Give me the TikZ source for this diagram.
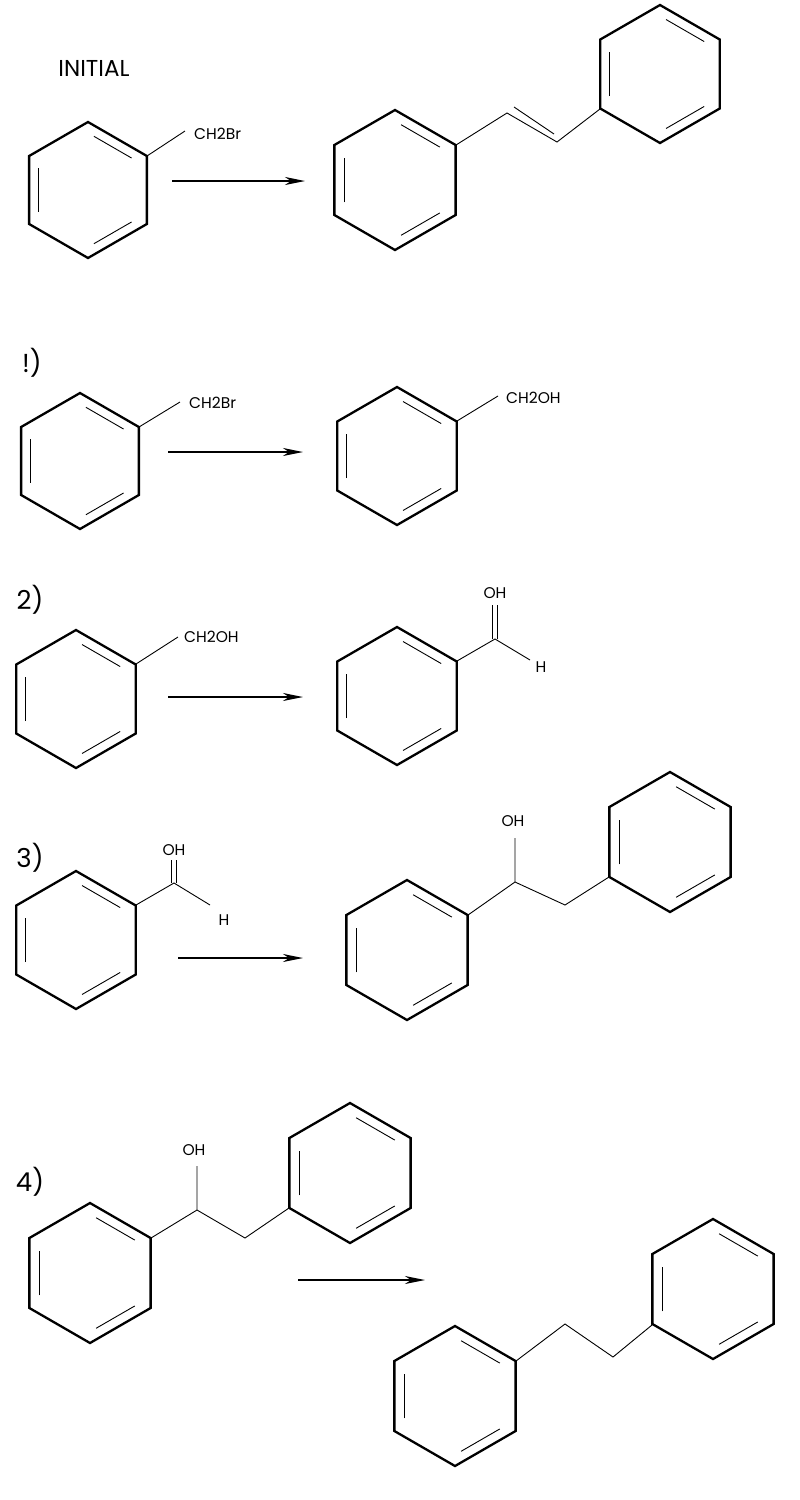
\documentclass[tikz,border=0pt]{standalone}
\usepackage{fontspec}
\setmainfont{Poppins}
\usetikzlibrary{calc,arrows.meta}
\tikzset{ring/.style={line width=2.3pt,line join=miter},
 thin/.style={line width=0.9pt},
 lab/.style={font=\fontsize{15.5}{15.5}\selectfont,inner sep=0pt},
 big/.style={font=\fontsize{26}{26}\selectfont,inner sep=0pt},
 rxn/.style={line width=1.5pt,-{Stealth[length=20pt,width=8pt,inset=6pt]}}}
\newcommand\benz[3]{%
\begin{scope}[shift={(#1pt,-#2pt)}]
\draw[ring] (90:#3pt)--(30:#3pt)--(-30:#3pt)--(-90:#3pt)--(-150:#3pt)--(150:#3pt)--cycle;
\foreach \a/\b in {90/30,-30/-90,-150/150}{
\draw[thin] ($(\a:0.84*#3pt)!0.12!(\b:0.84*#3pt)$)--($(\a:0.84*#3pt)!0.88!(\b:0.84*#3pt)$);}
\end{scope}}
\begin{document}
\begin{tikzpicture}[x=1pt,y=1pt]
\useasboundingbox (0,0) rectangle (800,-1500);
\fill[white] (0,0) rectangle (800,-1500);
% INITIAL
\node[big,font=\fontsize{23}{23}\selectfont] (t0) at (94,-68) {INITIAL};
\benz{88}{190}{68}
\coordinate (a1) at (147,-156); \coordinate (a2) at (185,-131);
\draw[thin] (a1)--(a2);
\node[lab,anchor=west] (l1) at (194,-134) {CH2Br};
\coordinate (r0a) at (172,-181); \coordinate (r0b) at (305,-181);
\draw[rxn] (r0a)--(r0b);
\benz{395}{180}{70}
\benz{660}{74}{69}
\coordinate (s1) at (456,-145); \coordinate (s2) at (507,-113);
\coordinate (s3) at (557,-142); \coordinate (s4) at (600,-109);
\draw[thin] (s1)--(s2)--(s3)--(s4);
\draw[thin] ($(s2)+(7,6)$)--($(s3)+(-3,8)$);
% 1
\node[big] (t1) at (32,-363) {!)};
\benz{80}{461}{68}
\coordinate (b1) at (139,-427); \coordinate (b2) at (180,-402);
\draw[thin] (b1)--(b2);
\node[lab,anchor=west] (l2) at (189,-403) {CH2Br};
\coordinate (r1a) at (168,-452); \coordinate (r1b) at (303,-452);
\draw[rxn] (r1a)--(r1b);
\benz{397}{456}{69}
\coordinate (c1) at (457,-421); \coordinate (c2) at (498,-396);
\draw[thin] (c1)--(c2);
\node[lab,anchor=west] (l3) at (506,-398) {CH2OH};
% 2
\node[big] (t2) at (30,-600) {2)};
\benz{76}{699}{69}
\coordinate (d1) at (136,-664); \coordinate (d2) at (178,-637);
\draw[thin] (d1)--(d2);
\node[lab,anchor=west] (l4) at (184,-637) {CH2OH};
\coordinate (r2a) at (168,-697); \coordinate (r2b) at (303,-697);
\draw[rxn] (r2a)--(r2b);
\benz{397}{696}{69}
\coordinate (e1) at (457,-661); \coordinate (e2) at (495,-639);
\coordinate (e3) at (530,-660);
\draw[thin] (e1)--(e2)--(e3);
\draw[thin] ($(e2)+(-2.5,0)$)--++(0,34) ($(e2)+(2.5,0)$)--++(0,34);
\node[lab] (l5) at (495,-593) {OH};
\node[lab] (l6) at (541,-667) {H};
% 3
\node[big] (t3) at (30,-858) {3)};
\benz{76}{940}{69}
\coordinate (f1) at (136,-905); \coordinate (f2) at (174,-883);
\coordinate (f3) at (210,-905);
\draw[thin] (f1)--(f2)--(f3);
\draw[thin] ($(f2)+(-2.5,0)$)--++(0,23) ($(f2)+(2.5,0)$)--++(0,23);
\node[lab] (l7) at (174,-850) {OH};
\node[lab] (l8) at (224,-920) {H};
\coordinate (r3a) at (178,-958); \coordinate (r3b) at (303,-958);
\draw[rxn] (r3a)--(r3b);
\benz{407}{950}{70}
\benz{670}{842}{70}
\coordinate (g1) at (468,-915); \coordinate (g2) at (515,-882);
\coordinate (g3) at (565,-905); \coordinate (g4) at (609,-877);
\coordinate (g5) at (515,-838);
\draw[thin] (g1)--(g2)--(g3)--(g4) (g2)--(g5);
\node[lab] (l9) at (513,-821) {OH};
% 4
\node[big] (t4) at (30,-1182) {4)};
\benz{90}{1273}{70}
\benz{350}{1173}{70}
\coordinate (h1) at (151,-1238); \coordinate (h2) at (197,-1210);
\coordinate (h3) at (245,-1238); \coordinate (h4) at (289,-1208);
\coordinate (h5) at (197,-1166);
\draw[thin] (h1)--(h2)--(h3)--(h4) (h2)--(h5);
\node[lab] (l10) at (194,-1150) {OH};
\coordinate (r4a) at (298,-1280); \coordinate (r4b) at (425,-1280);
\draw[rxn] (r4a)--(r4b);
\benz{455}{1396}{70}
\benz{713}{1289}{70}
\coordinate (k1) at (516,-1361); \coordinate (k2) at (565,-1324);
\coordinate (k3) at (613,-1357); \coordinate (k4) at (652,-1325);
\draw[thin] (k1)--(k2)--(k3)--(k4);
\end{tikzpicture}
\end{document}
